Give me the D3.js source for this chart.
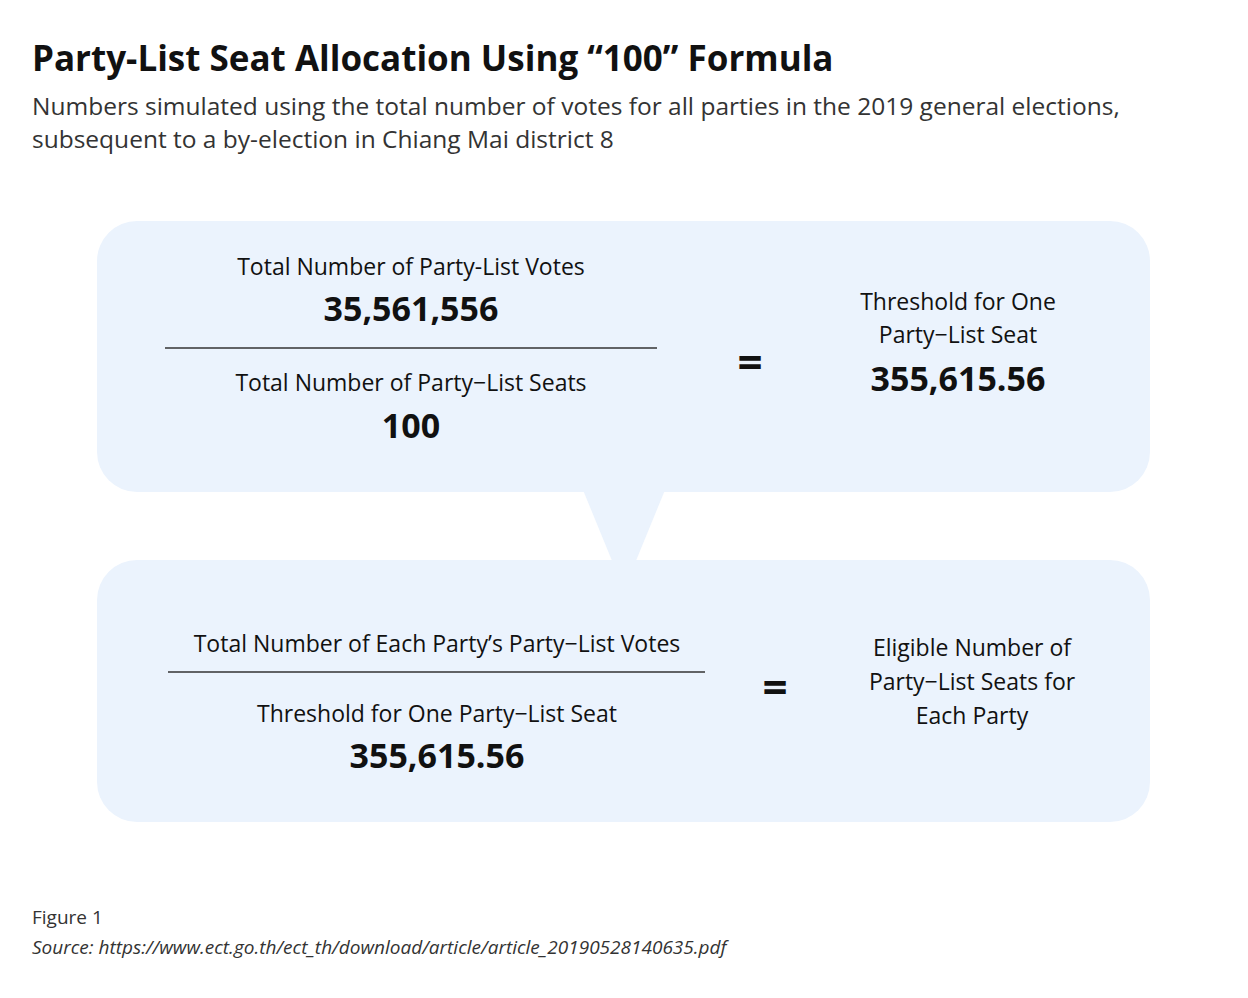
<!DOCTYPE html>
<html><head><meta charset="utf-8">
<script src="https://cdn.jsdelivr.net/npm/d3@7"></script>
<style>body{margin:0;background:#fff;font-family:"Open Sans",sans-serif}</style>
</head><body>
<svg id="chart" width="1248" height="998"></svg>
<script>
const title = "Party-List Seat Allocation Using “100” Formula"
const subtitle = ["Numbers simulated using the total number of votes for all parties in the 2019 general elections,", "subsequent to a by-election in Chiang Mai district 8"]
const top_num = ["Total Number of Party-List Votes", "35,561,556"]
const top_den = ["Total Number of Party−List Seats", "100"]
const top_res = ["Threshold for One", "Party−List Seat", "355,615.56"]
const bot_num = ["Total Number of Each Party’s Party−List Votes"]
const bot_den = ["Threshold for One Party−List Seat", "355,615.56"]
const bot_res = ["Eligible Number of", "Party−List Seats for", "Each Party"]
const footer = ["Figure 1", "Source: https://www.ect.go.th/ect_th/download/article/article_20190528140635.pdf"]

const svg = d3.select("#chart")
const fill = "#ebf3fd", ink = "#111"

svg.append("text").attr("x", 32).attr("y", 71).attr("font-size", 35).attr("font-weight", 700).attr("fill", ink).text(title)
svg.selectAll(".sub").data(subtitle).enter().append("text").attr("x", 32).attr("y", (d, i) => 115 + i * 33)
    .attr("font-size", 24.5).attr("fill", "#333").text(d => d)

// boxes and pointer
svg.append("rect").attr("x", 97).attr("y", 221).attr("width", 1053).attr("height", 271).attr("rx", 40).attr("fill", fill)
svg.append("rect").attr("x", 97).attr("y", 560).attr("width", 1053).attr("height", 262).attr("rx", 40).attr("fill", fill)
svg.append("path").attr("d", d3.line()([[583, 490], [665, 490], [624, 590], [624, 590]]) + "Z").attr("fill", fill)

function lines(arr, x, ys, sizes, weights) {
    svg.selectAll(null).data(arr).enter().append("text").attr("x", x).attr("y", (d, i) => ys[i])
        .attr("text-anchor", "middle").attr("font-size", (d, i) => sizes[i]).attr("font-weight", (d, i) => weights[i])
        .attr("fill", ink).text(d => d)
}

lines(top_num, 411, [275, 321], [23, 34], [400, 700])
svg.append("line").attr("x1", 165).attr("x2", 657).attr("y1", 348).attr("y2", 348).attr("stroke", "#333").attr("stroke-width", 1.5)
lines(top_den, 411, [391, 438], [23, 34], [400, 700])
lines(["="], 750, [378], [44], [700])
lines(top_res, 958, [310, 343, 391], [23, 23, 34], [400, 400, 700])

lines(bot_num, 437, [652], [23], [400])
svg.append("line").attr("x1", 168).attr("x2", 705).attr("y1", 672).attr("y2", 672).attr("stroke", "#333").attr("stroke-width", 1.5)
lines(bot_den, 437, [722, 768], [23, 34], [400, 700])
lines(["="], 775, [703], [44], [700])
lines(bot_res, 972, [656, 690, 724], [23, 23, 23], [400, 400, 400])

svg.append("text").attr("x", 32).attr("y", 924).attr("font-size", 19).attr("fill", "#333").text(footer[0])
svg.append("text").attr("x", 32).attr("y", 954).attr("font-size", 19).attr("font-style", "italic").attr("fill", "#333").text(footer[1])
</script>
</body></html>
